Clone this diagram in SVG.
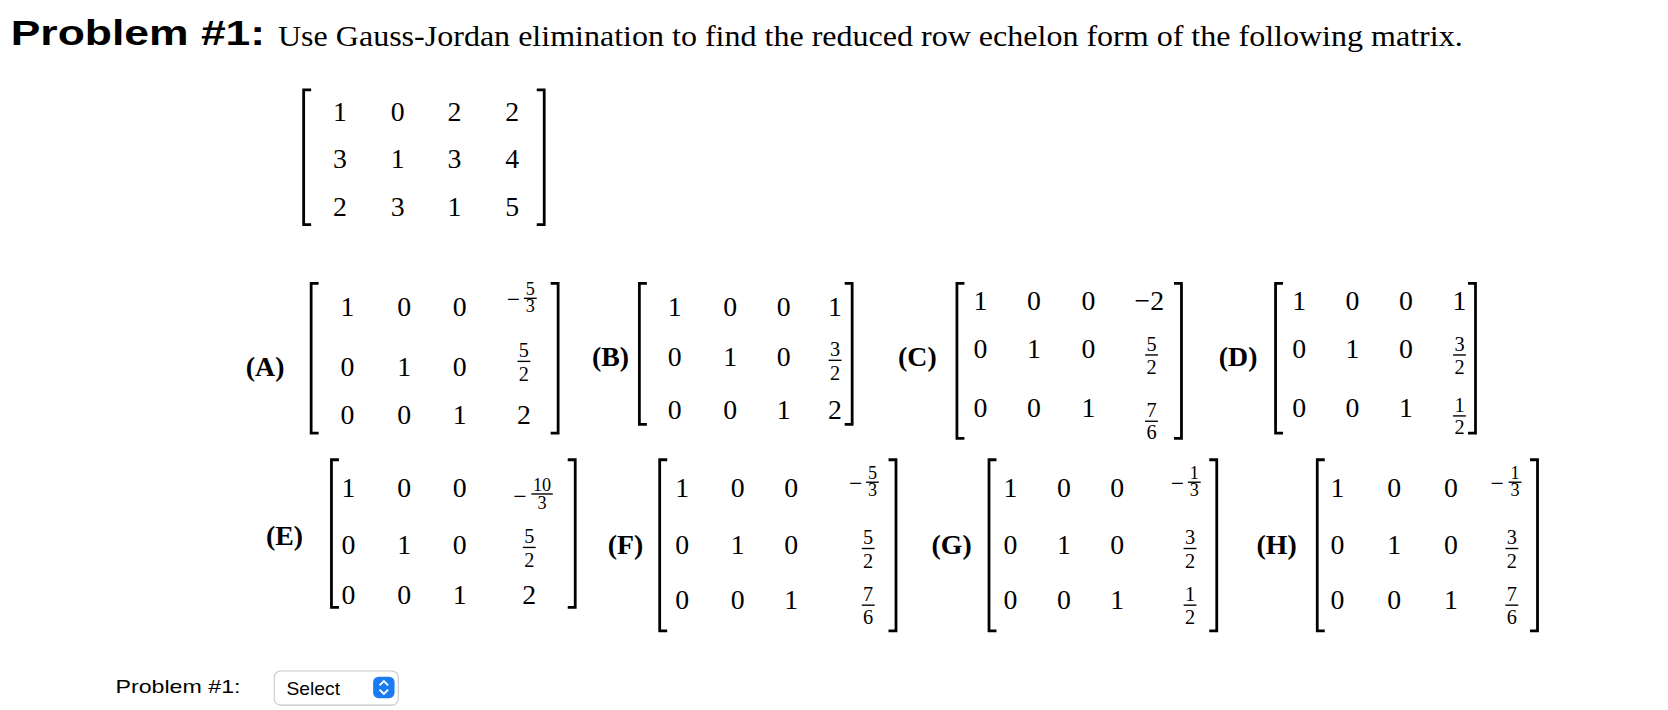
<svg xmlns="http://www.w3.org/2000/svg" width="1668" height="710" viewBox="0 0 1668 710">
<style>
.t{font-family:"Liberation Serif",serif;font-size:26px;fill:#000}
.c{text-anchor:middle}
.f{font-family:"Liberation Serif",serif;font-size:19px;text-anchor:middle}
.s{font-family:"Liberation Serif",serif;font-size:17px;text-anchor:middle}
.lb{font-family:"Liberation Serif",serif;font-size:26px;font-weight:bold;text-anchor:middle}
.br{fill:none;stroke:#000;stroke-width:2.6}
.bar{stroke:#000;stroke-width:1.3}
</style>
<rect width="1668" height="710" fill="#fff"/>
<g transform="scale(1.0692)">
<text x="10" y="42" textLength="238" lengthAdjust="spacingAndGlyphs" style="font-family:'Liberation Sans',sans-serif;font-size:32px;font-weight:bold">Problem #1:</text>
<text x="260" y="43" class="t" textLength="1108" lengthAdjust="spacingAndGlyphs" style="font-size:28px">Use Gauss-Jordan elimination to find the reduced row echelon form of the following matrix.</text>

<g id="matrix">
<path class="br" d="M291,84 H284 V210 H291 M502,84 H509 V210 H502"/>
<g class="t c"><text x="318" y="113">1</text><text x="372" y="113">0</text><text x="425" y="113">2</text><text x="479" y="113">2</text>
<text x="318" y="157">3</text><text x="372" y="157">1</text><text x="425" y="157">3</text><text x="479" y="157">4</text>
<text x="318" y="202">2</text><text x="372" y="202">3</text><text x="425" y="202">1</text><text x="479" y="202">5</text></g>
</g>

<g id="optA">
<text x="248" y="352" class="lb">(A)</text>
<path class="br" d="M298,265 H291 V405 H298 M515,265 H522 V405 H515"/>
<g class="t c"><text x="325" y="296">1</text><text x="378" y="296">0</text><text x="430" y="296">0</text>
<text x="325" y="352">0</text><text x="378" y="352">1</text><text x="430" y="352">0</text>
<text x="325" y="397">0</text><text x="378" y="397">0</text><text x="430" y="397">1</text><text x="490" y="397">2</text></g>
<text x="474" y="287" class="t" style="font-size:22px">−</text><text x="496" y="276" class="s">5</text><line class="bar" x1="490" x2="502" y1="279" y2="279"/><text x="496" y="292" class="s">3</text>
<text x="490" y="334" class="f">5</text><line class="bar" x1="484" x2="496" y1="338" y2="338"/><text x="490" y="356" class="f">2</text>
</g>

<g id="optB">
<text x="571" y="342" class="lb">(B)</text>
<path class="br" d="M605,265 H598 V397 H605 M790,265 H797 V397 H790"/>
<g class="t c"><text x="631" y="296">1</text><text x="683" y="296">0</text><text x="733" y="296">0</text><text x="781" y="296">1</text>
<text x="631" y="342">0</text><text x="683" y="342">1</text><text x="733" y="342">0</text>
<text x="631" y="392">0</text><text x="683" y="392">0</text><text x="733" y="392">1</text><text x="781" y="392">2</text></g>
<text x="781" y="333" class="f">3</text><line class="bar" x1="775" x2="787" y1="337" y2="337"/><text x="781" y="355" class="f">2</text>
</g>

<g id="optC">
<text x="858" y="342" class="lb">(C)</text>
<path class="br" d="M902,265 H895 V410 H902 M1098,265 H1105 V410 H1098"/>
<g class="t c"><text x="917" y="290">1</text><text x="967" y="290">0</text><text x="1018" y="290">0</text><text x="1075" y="290">−2</text>
<text x="917" y="335">0</text><text x="967" y="335">1</text><text x="1018" y="335">0</text>
<text x="917" y="390">0</text><text x="967" y="390">0</text><text x="1018" y="390">1</text></g>
<text x="1077" y="328" class="f">5</text><line class="bar" x1="1071" x2="1083" y1="332" y2="332"/><text x="1077" y="350" class="f">2</text>
<text x="1077" y="390" class="f">7</text><line class="bar" x1="1071" x2="1083" y1="394" y2="394"/><text x="1077" y="411" class="f">6</text>
</g>

<g id="optD">
<text x="1158" y="342" class="lb">(D)</text>
<path class="br" d="M1200,265 H1193 V405 H1200 M1373,265 H1380 V405 H1373"/>
<g class="t c"><text x="1215" y="290">1</text><text x="1265" y="290">0</text><text x="1315" y="290">0</text><text x="1365" y="290">1</text>
<text x="1215" y="335">0</text><text x="1265" y="335">1</text><text x="1315" y="335">0</text>
<text x="1215" y="390">0</text><text x="1265" y="390">0</text><text x="1315" y="390">1</text></g>
<text x="1365" y="328" class="f">3</text><line class="bar" x1="1359" x2="1371" y1="332" y2="332"/><text x="1365" y="350" class="f">2</text>
<text x="1365" y="385" class="f">1</text><line class="bar" x1="1359" x2="1371" y1="389" y2="389"/><text x="1365" y="406" class="f">2</text>
</g>

<g id="optE">
<text x="266" y="510" class="lb">(E)</text>
<path class="br" d="M317,430 H310 V568 H317 M531,430 H538 V568 H531"/>
<g class="t c"><text x="326" y="465">1</text><text x="378" y="465">0</text><text x="430" y="465">0</text>
<text x="326" y="518">0</text><text x="378" y="518">1</text><text x="430" y="518">0</text>
<text x="326" y="565">0</text><text x="378" y="565">0</text><text x="430" y="565">1</text><text x="495" y="565">2</text></g>
<text x="480" y="471" class="t" style="font-size:22px">−</text><text x="507" y="459" class="s">10</text><line class="bar" x1="497" x2="517" y1="462" y2="462"/><text x="507" y="476" class="s">3</text>
<text x="495" y="508" class="f">5</text><line class="bar" x1="489" x2="501" y1="512" y2="512"/><text x="495" y="530" class="f">2</text>
</g>

<g id="optF">
<text x="585" y="518" class="lb">(F)</text>
<path class="br" d="M624,430 H617 V590 H624 M831,430 H838 V590 H831"/>
<g class="t c"><text x="638" y="465">1</text><text x="690" y="465">0</text><text x="740" y="465">0</text>
<text x="638" y="518">0</text><text x="690" y="518">1</text><text x="740" y="518">0</text>
<text x="638" y="570">0</text><text x="690" y="570">0</text><text x="740" y="570">1</text></g>
<text x="794" y="459" class="t" style="font-size:22px">−</text><text x="816" y="448" class="s">5</text><line class="bar" x1="810" x2="822" y1="451" y2="451"/><text x="816" y="464" class="s">3</text>
<text x="812" y="509" class="f">5</text><line class="bar" x1="806" x2="818" y1="513" y2="513"/><text x="812" y="531" class="f">2</text>
<text x="812" y="562" class="f">7</text><line class="bar" x1="806" x2="818" y1="566" y2="566"/><text x="812" y="584" class="f">6</text>
</g>

<g id="optG">
<text x="890" y="518" class="lb">(G)</text>
<path class="br" d="M932,430 H925 V590 H932 M1131,430 H1138 V590 H1131"/>
<g class="t c"><text x="945" y="465">1</text><text x="995" y="465">0</text><text x="1045" y="465">0</text>
<text x="945" y="518">0</text><text x="995" y="518">1</text><text x="1045" y="518">0</text>
<text x="945" y="570">0</text><text x="995" y="570">0</text><text x="1045" y="570">1</text></g>
<text x="1095" y="459" class="t" style="font-size:22px">−</text><text x="1117" y="448" class="s">1</text><line class="bar" x1="1111" x2="1123" y1="451" y2="451"/><text x="1117" y="464" class="s">3</text>
<text x="1113" y="509" class="f">3</text><line class="bar" x1="1107" x2="1119" y1="513" y2="513"/><text x="1113" y="531" class="f">2</text>
<text x="1113" y="562" class="f">1</text><line class="bar" x1="1107" x2="1119" y1="566" y2="566"/><text x="1113" y="584" class="f">2</text>
</g>

<g id="optH">
<text x="1194" y="518" class="lb">(H)</text>
<path class="br" d="M1239,430 H1232 V590 H1239 M1431,430 H1438 V590 H1431"/>
<g class="t c"><text x="1251" y="465">1</text><text x="1304" y="465">0</text><text x="1357" y="465">0</text>
<text x="1251" y="518">0</text><text x="1304" y="518">1</text><text x="1357" y="518">0</text>
<text x="1251" y="570">0</text><text x="1304" y="570">0</text><text x="1357" y="570">1</text></g>
<text x="1394" y="459" class="t" style="font-size:22px">−</text><text x="1417" y="448" class="s">1</text><line class="bar" x1="1411" x2="1423" y1="451" y2="451"/><text x="1417" y="464" class="s">3</text>
<text x="1414" y="509" class="f">3</text><line class="bar" x1="1408" x2="1420" y1="513" y2="513"/><text x="1414" y="531" class="f">2</text>
<text x="1414" y="562" class="f">7</text><line class="bar" x1="1408" x2="1420" y1="566" y2="566"/><text x="1414" y="584" class="f">6</text>
</g>

<g id="select">
<text x="108" y="648" textLength="117" lengthAdjust="spacingAndGlyphs" style="font-family:'Liberation Sans',sans-serif;font-size:17px">Problem #1:</text>
<rect x="256.5" y="627.5" width="116" height="32" rx="6" fill="#fff" stroke="#c8c8c8"/>
<text x="268" y="650" style="font-family:'Liberation Sans',sans-serif;font-size:18px">Select</text>
<rect x="349" y="633" width="20" height="20" rx="5" fill="#1a7bf2"/>
<path d="M355,641 L359,637 L363,641 M355,645 L359,649 L363,645" fill="none" stroke="#fff" stroke-width="1.8"/>
</g>
</g>
</svg>
